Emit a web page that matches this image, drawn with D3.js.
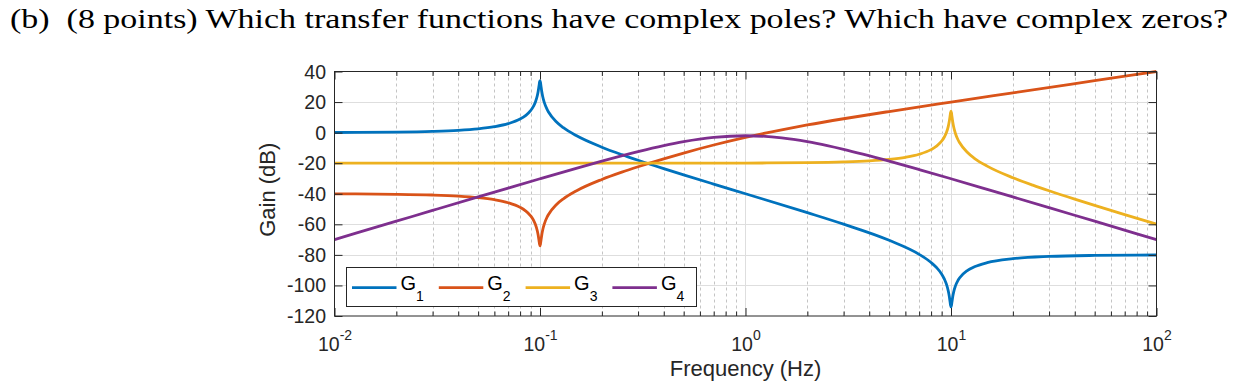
<!DOCTYPE html>
<html>
<head>
<meta charset="utf-8">
<script src="https://cdn.jsdelivr.net/npm/d3@7"></script>
<style>
  html, body { margin: 0; padding: 0; background: #fff; }
  svg { display: block; }
</style>
</head>
<body>
<div id="bode"></div>
<script>
// Valeurs (gain en dB, fréquence en Hz)
const freqG1 = [0.01, 0.02, 0.03, 0.04, 0.05, 0.06, 0.07, 0.08, 0.085, 0.09, 0.093, 0.095, 0.097, 0.098, 0.099, 0.0995,
  0.1, 0.1005, 0.101, 0.102, 0.103, 0.105, 0.108, 0.11, 0.12, 0.13, 0.15, 0.2, 0.25, 0.3, 0.4, 0.5, 0.7, 1, 2, 3, 5, 7, 8,
  8.5, 9, 9.3, 9.5, 9.7, 9.8, 9.9, 9.95, 10, 10.05, 10.1, 10.2, 10.3, 10.5, 10.8, 11, 12, 13, 15, 20, 30, 50, 100];
const gainG1 = [0.09, 0.35, 0.82, 1.51, 2.50, 3.88, 5.85, 8.87, 11.12, 14.39, 17.31, 20.06, 24.12, 27.10, 31.03, 33.05,
  33.98, 32.97, 30.90, 26.89, 23.84, 19.61, 15.50, 13.51, 7.12, 3.22, -1.94, -9.54, -14.41, -18.07, -23.54, -27.63, -33.67, -40.00, -52.37, -59.89, -70.45, -79.65, -84.99,
  -88.29, -92.55, -96.04, -99.17, -103.59, -106.74, -110.86, -112.96, -113.98, -113.06, -111.07, -107.23, -104.35, -100.46, -96.84, -95.17, -90.29, -87.78, -85.10, -82.50, -81.02, -80.36, -80.09];

const freqG2 = [0.01, 0.02, 0.03, 0.04, 0.05, 0.06, 0.07, 0.08, 0.085, 0.09, 0.093, 0.095, 0.097, 0.098, 0.099, 0.0995,
  0.1, 0.1005, 0.101, 0.102, 0.103, 0.105, 0.108, 0.11, 0.12, 0.13, 0.15, 0.2, 0.25, 0.3, 0.4, 0.5, 0.7, 1, 1.5, 2, 3, 5, 10, 20, 50, 100];
const gainG2 = [-40.09, -40.36, -40.82, -41.52, -42.51, -43.89, -45.87, -48.90, -51.15, -54.42, -57.34, -60.10, -64.17, -67.14, -71.07, -73.09,
  -74.02, -73.01, -70.94, -66.94, -63.89, -59.66, -55.55, -53.56, -47.18, -43.29, -38.16, -30.63, -25.86, -22.31, -17.12, -13.37, -8.11, -3.10, 1.88, 5.03, 9.08, 13.81, 19.96, 26.01, 33.98, 40.00];

const freqG3 = [0.01, 0.1, 0.5, 1, 2, 3, 4, 5, 6, 7, 8, 8.5, 9, 9.3, 9.5, 9.7, 9.8, 9.9, 9.95,
  10, 10.05, 10.1, 10.2, 10.3, 10.5, 10.8, 11, 12, 13, 15, 20, 25, 30, 40, 50, 70, 100];
const gainG3 = [-20.00, -20.00, -19.98, -19.91, -19.65, -19.18, -18.49, -17.50, -16.12, -14.15, -11.13, -8.88, -5.61, -2.70, 0.06, 4.12, 7.10, 11.03, 13.05,
  13.98, 12.97, 10.90, 6.89, 3.84, -0.39, -4.50, -6.49, -12.88, -16.78, -21.94, -29.54, -34.40, -38.06, -43.52, -47.60, -53.62, -59.91];

const freqG4 = [0.01, 0.02, 0.03, 0.05, 0.07, 0.1, 0.15, 0.2, 0.3, 0.4, 0.5, 0.7, 1, 1.5, 2, 2.5, 3, 5, 7, 10, 15, 20, 30, 50, 100];
const gainG4 = [-70.00, -57.97, -50.93, -42.08, -36.28, -30.17, -23.34, -18.64, -12.41, -8.50, -5.92, -3.13, -2.04, -3.43, -5.92, -8.50, -10.91, -18.64, -24.15, -30.17, -37.12, -42.08, -49.10, -57.97, -70.00];

const seriesNames = ['1', '2', '3', '4'];
const seriesColors = ['#0072bd', '#d95319', '#edb120', '#7e2f8e'];
const yTicks = [-120, -100, -80, -60, -40, -20, 0, 20, 40];
const xDecades = [-2, -1, 0, 1, 2];

const titleText = '(b)  (8 points) Which transfer functions have complex poles? Which have complex zeros?';

function drawBode() {
  const width = 1242;
  const height = 391;
  const box = { left: 334.5, right: 1156.5, top: 71.5, bottom: 316 };
  const sans = 'Liberation Sans, Arial, Helvetica, sans-serif';
  const axisColor = '#262626';

  const svg = d3.select('#bode').append('svg')
    .attr('width', width)
    .attr('height', height);

  // Titre de la question
  svg.append('text')
    .attr('x', 10)
    .attr('y', 28)
    .attr('font-family', 'Liberation Serif, Times New Roman, serif')
    .attr('font-size', 27)
    .attr('fill', '#000')
    .attr('textLength', 1218)
    .attr('lengthAdjust', 'spacingAndGlyphs')
    .style('white-space', 'pre')
    .text(titleText);

  // Échelles
  const x = d3.scaleLog().domain([1e-2, 1e2]).range([box.left, box.right]);
  const y = d3.scaleLinear().domain([-120, 40]).range([box.bottom, box.top]);

  const majorX = xDecades.map(e => Math.pow(10, e));
  const minorX = x.ticks().filter(v => !majorX.some(m => Math.abs(v / m - 1) < 1e-9));

  // Grille
  const grid = svg.append('g');
  grid.selectAll('.minor').data(minorX).enter().append('line')
    .attr('x1', d => Math.round(x(d)) + 0.5).attr('x2', d => Math.round(x(d)) + 0.5)
    .attr('y1', box.top).attr('y2', box.bottom)
    .attr('stroke', '#c4c4c4').attr('stroke-dasharray', '3,3');
  grid.selectAll('.majorx').data(majorX.slice(1, -1)).enter().append('line')
    .attr('x1', d => Math.round(x(d)) + 0.5).attr('x2', d => Math.round(x(d)) + 0.5)
    .attr('y1', box.top).attr('y2', box.bottom)
    .attr('stroke', '#dedede');
  grid.selectAll('.majory').data(yTicks.slice(1, -1)).enter().append('line')
    .attr('x1', box.left).attr('x2', box.right)
    .attr('y1', d => Math.round(y(d)) + 0.5).attr('y2', d => Math.round(y(d)) + 0.5)
    .attr('stroke', '#dedede');

  // Courbes
  svg.append('clipPath').attr('id', 'plotClip').append('rect')
    .attr('x', box.left).attr('y', box.top - 2)
    .attr('width', box.right - box.left).attr('height', box.bottom - box.top + 2);

  const line = d3.line()
    .x(d => x(d[0]))
    .y(d => y(d[1]))
    .curve(d3.curveMonotoneX);

  const series = [
    d3.zip(freqG1, gainG1),
    d3.zip(freqG2, gainG2),
    d3.zip(freqG3, gainG3),
    d3.zip(freqG4, gainG4)
  ];

  svg.append('g').attr('clip-path', 'url(#plotClip)')
    .selectAll('path').data(series).enter().append('path')
    .attr('d', line)
    .attr('fill', 'none')
    .attr('stroke', (d, i) => seriesColors[i])
    .attr('stroke-width', 2.8)
    .attr('stroke-linejoin', 'round');

  // Axes (graduations vers l'intérieur)
  function styleAxis(g) {
    g.select('.domain').remove();
    g.selectAll('.tick line').attr('stroke', axisColor);
    g.selectAll('.tick text').remove();
  }
  svg.append('g').attr('transform', `translate(0,${box.bottom})`)
    .call(d3.axisBottom(x).tickValues(minorX).tickSize(-4.5).tickFormat(() => '')).call(styleAxis);
  svg.append('g').attr('transform', `translate(0,${box.top})`)
    .call(d3.axisTop(x).tickValues(minorX).tickSize(-4.5).tickFormat(() => '')).call(styleAxis);
  svg.append('g').attr('transform', `translate(0,${box.top})`)
    .call(d3.axisTop(x).tickValues(majorX).tickSize(-8).tickFormat(() => '')).call(styleAxis);
  const xAxis = svg.append('g').attr('transform', `translate(0,${box.bottom})`)
    .call(d3.axisBottom(x).tickValues(majorX).tickSize(-8).tickFormat(() => '')).call(styleAxis);
  svg.append('g').attr('transform', `translate(${box.left},0)`)
    .call(d3.axisLeft(y).tickValues(yTicks).tickSize(-8)).call(styleAxis);
  svg.append('g').attr('transform', `translate(${box.right},0)`)
    .call(d3.axisRight(y).tickValues(yTicks).tickSize(-8)).call(styleAxis);

  // Étiquettes 10^n
  xAxis.selectAll('.tick').append('text')
    .attr('y', 34.7)
    .attr('text-anchor', 'middle')
    .attr('font-family', sans)
    .attr('font-size', 19.5)
    .attr('fill', axisColor)
    .each(function(d, i) {
      const t = d3.select(this);
      t.append('tspan').text('10');
      t.append('tspan').attr('dy', -10.5).attr('font-size', 14).text(String(xDecades[i]));
    });

  svg.append('g').selectAll('text').data(yTicks).enter().append('text')
    .attr('x', box.left - 8.5)
    .attr('y', d => y(d))
    .attr('dy', '0.36em')
    .attr('text-anchor', 'end')
    .attr('font-family', sans)
    .attr('font-size', 19.5)
    .attr('fill', axisColor)
    .text(d => d);

  // Cadre
  svg.append('rect')
    .attr('x', box.left).attr('y', box.top)
    .attr('width', box.right - box.left).attr('height', box.bottom - box.top)
    .attr('fill', 'none').attr('stroke', axisColor).attr('stroke-width', 1);

  // Titres des axes
  svg.append('text')
    .attr('x', (box.left + box.right) / 2)
    .attr('y', 376)
    .attr('text-anchor', 'middle')
    .attr('font-family', sans)
    .attr('font-size', 22)
    .attr('fill', axisColor)
    .text('Frequency (Hz)');
  svg.append('text')
    .attr('transform', `translate(275,${(box.top + box.bottom) / 2 - 4}) rotate(-90)`)
    .attr('text-anchor', 'middle')
    .attr('font-family', sans)
    .attr('font-size', 22)
    .attr('fill', axisColor)
    .text('Gain (dB)');

  // Légende
  const legend = svg.append('g');
  legend.append('rect')
    .attr('x', 346.5).attr('y', 267.5)
    .attr('width', 350).attr('height', 39)
    .attr('fill', '#fff').attr('stroke', axisColor).attr('stroke-width', 1);
  const legendX = d3.scaleLinear().domain([0, 1]).range([352, 438.8]);
  const items = legend.selectAll('.item').data(seriesNames).enter().append('g')
    .attr('transform', (d, i) => `translate(${legendX(i)},287.7)`);
  items.append('line')
    .attr('x1', 0).attr('x2', 44.5)
    .attr('stroke', (d, i) => seriesColors[i])
    .attr('stroke-width', 2.8);
  items.append('text')
    .attr('x', 48.5)
    .attr('y', 1.8)
    .attr('font-family', sans)
    .attr('font-size', 20)
    .attr('fill', '#000')
    .each(function(d) {
      const t = d3.select(this);
      t.append('tspan').text('G');
      t.append('tspan').attr('dy', 12).attr('font-size', 14).text(d);
    });
}

drawBode();
</script>
</body>
</html>
